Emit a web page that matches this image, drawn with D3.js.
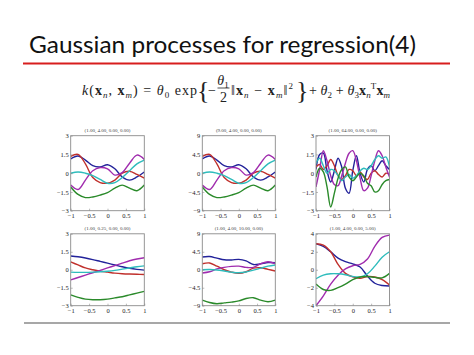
<!DOCTYPE html>
<html><head><meta charset="utf-8">
<script src="https://cdn.jsdelivr.net/npm/d3@7"></script>
<style>html,body{margin:0;padding:0;background:#fff;}svg{display:block;}</style>
</head><body>
<script>
// ---------- data ----------
const titleText = "Gaussian processes for regression(4)";
const panelTitles = ["(1.00, 4.00, 0.00, 0.00)","(9.00, 4.00, 0.00, 0.00)","(1.00, 64.00, 0.00, 0.00)",
                     "(1.00, 0.25, 0.00, 0.00)","(1.00, 4.00, 10.00, 0.00)","(1.00, 4.00, 0.00, 5.00)"];
const seriesColors = ["#22229a","#c0302c","#a02cae","#2ebcbc","#2a8a2a"]; // blue, red, magenta, cyan, green
const xCoarse = [-1,-0.8,-0.6,-0.4,-0.2,0,0.2,0.4,0.6,0.8,1];
const xDense = [-1,-0.9,-0.8,-0.7,-0.6,-0.5,-0.4,-0.3,-0.2,-0.1,0,0.1,0.2,0.3,0.4,0.5,0.6,0.7,0.8,0.9,1];
const xTicks = [-1,-0.5,0,0.5,1];
const yTicks1 = [-3,-1.5,0,1.5,3];
const yTicks9 = [-9,-4.5,0,4.5,9];
const yTicks4 = [-4,-2,0,2,4];

const panel1 = [
  [1.15,1.38,1.05,0.6,0.5,0.68,0.35,-0.3,-0.55,-0.3,0.1],
  [1.35,1.5,0.75,-0.35,-0.75,-0.8,-0.55,0.0,0.15,-0.1,-0.4],
  [-0.95,-1.3,-0.55,0.2,0.45,0.35,-0.15,0.05,0.8,1.45,1.1],
  [0.0,0.1,0.0,-0.2,-0.5,-0.8,-0.75,-0.35,0.2,0.75,1.05],
  [-1.1,-1.7,-1.95,-1.9,-1.75,-1.55,-1.2,-0.95,-1.2,-1.4,-0.95]
];
const panel2 = [
  [3.45,4.14,3.15,1.8,1.5,2.04,1.05,-0.9,-1.65,-0.9,0.3],
  [4.05,4.5,2.25,-1.05,-2.25,-2.4,-1.65,0.0,0.45,-0.3,-1.2],
  [-2.85,-3.9,-1.65,0.6,1.35,1.05,-0.45,0.15,2.4,4.35,3.3],
  [0.0,0.3,0.0,-0.6,-1.5,-2.4,-2.25,-1.05,0.6,2.25,3.15],
  [-3.3,-5.1,-5.85,-5.7,-5.25,-4.65,-3.6,-2.85,-3.6,-4.2,-2.85]
];
const panel3 = [
  [0.3,1.5,1.6,0.2,-0.7,0.2,1.2,0.5,-1.2,-1.6,0.2,1.4,0.0,-0.7,0.3,0.6,0.2,0.6,1.0,0.6,0.3],
  [0.5,0.7,0.3,0.6,1.1,0.6,-0.2,-0.5,-0.2,0.3,0.2,-0.2,0.1,-0.3,-0.5,0.0,0.2,-0.1,-0.3,0.0,-0.1],
  [-1.1,0.3,1.8,1.0,-0.2,-0.9,-1.0,-0.2,0.8,1.6,1.8,1.0,-0.4,-1.4,-1.2,-0.2,1.0,1.8,1.4,0.5,-0.3],
  [0.8,1.2,0.6,0.0,0.3,0.2,-0.2,-0.6,-0.3,-0.1,-0.4,-0.2,0.2,0.4,0.3,0.6,1.1,1.4,1.2,1.3,0.5],
  [-0.3,0.4,0.1,-1.1,-2.7,-1.6,-0.4,0.3,0.5,-0.3,-0.6,-0.3,0.0,-0.2,-0.8,-1.0,-1.5,-1.4,-0.9,-0.6,-0.5]
];
const panel4 = [
  [1.15,1.08,0.98,0.85,0.7,0.55,0.4,0.25,0.12,0.03,-0.03],
  [0.65,0.4,0.15,0.0,-0.12,-0.2,-0.28,-0.33,-0.36,-0.38,-0.4],
  [-0.85,-0.65,-0.45,-0.25,-0.05,0.15,0.35,0.55,0.75,0.9,1.0],
  [-0.2,-0.22,-0.22,-0.2,-0.17,-0.12,-0.05,0.05,0.15,0.25,0.32],
  [-2.1,-2.3,-2.45,-2.5,-2.5,-2.45,-2.35,-2.25,-2.1,-1.95,-1.8]
];
const panel5 = [
  [3.2,3.3,2.9,2.5,2.45,2.6,2.2,1.3,1.5,1.8,1.75],
  [1.5,1.7,0.9,0.0,-0.6,-0.9,-0.5,0.4,0.5,0.1,-0.3],
  [-0.8,-0.5,0.2,0.6,0.85,0.9,0.6,0.6,1.5,2.0,1.5],
  [0.0,0.05,-0.05,-0.3,-0.6,-0.75,-0.55,-0.1,0.4,0.9,1.2],
  [-7.6,-8.2,-8.5,-8.3,-8.1,-7.8,-7.2,-7.0,-7.6,-8.0,-7.6]
];
const panel6 = [
  [2.9,2.6,2.0,1.3,0.9,0.65,0.3,-0.7,-1.5,-1.75,-1.8],
  [2.9,2.75,2.0,0.6,-0.4,-0.8,-0.95,-0.75,-0.8,-1.1,-1.7],
  [-4.0,-2.9,-1.6,-0.6,0.1,0.45,0.6,1.2,2.6,3.6,3.85],
  [-1.0,-0.6,-0.45,-0.45,-0.55,-0.75,-0.8,-0.45,0.4,1.4,2.0],
  [-1.6,-2.2,-2.3,-2.0,-1.6,-1.1,-0.8,-0.75,-0.85,-0.9,-0.4]
];

const panels = [
  {title: panelTitles[0], xs: xCoarse, series: panel1, yTicks: yTicks1},
  {title: panelTitles[1], xs: xCoarse, series: panel2, yTicks: yTicks9},
  {title: panelTitles[2], xs: xDense,  series: panel3, yTicks: yTicks1},
  {title: panelTitles[3], xs: xCoarse, series: panel4, yTicks: yTicks1},
  {title: panelTitles[4], xs: xCoarse, series: panel5, yTicks: yTicks9},
  {title: panelTitles[5], xs: xCoarse, series: panel6, yTicks: yTicks4}
];

// ---------- layout ----------
const W = 474, H = 355;
const svg = d3.select("body").append("svg").attr("width", W).attr("height", H)
  .style("font-family", "'Liberation Serif','DejaVu Serif',serif");

// title
svg.append("text").attr("x", 29).attr("y", 53)
  .attr("font-family", "Lato, 'Open Sans', sans-serif").attr("font-size", 24)
  .attr("textLength", 387).attr("lengthAdjust", "spacingAndGlyphs")
  .attr("fill", "#111").text(titleText);
svg.append("line").attr("x1", 23).attr("x2", 450).attr("y1", 63.5).attr("y2", 63.5)
  .attr("stroke", "#d81e1e").attr("stroke-width", 2);
svg.append("line").attr("x1", 24).attr("x2", 450).attr("y1", 323).attr("y2", 323)
  .attr("stroke", "#8a8a8a").attr("stroke-width", 1.5);

// formula
const fy = 95, fs = 14, ss = 9;
const f = svg.append("g").attr("fill", "#222").attr("font-size", fs);
function seg(x, len, parts) {
  const t = f.append("text").attr("x", x).attr("y", fy);
  parts.forEach(p => {
    const s = t.append("tspan").text(p.t);
    if (p.i) s.attr("font-style", "italic");
    if (p.b) s.attr("font-weight", "bold");
    if (p.dy) s.attr("dy", p.dy);
    if (p.fs) s.attr("font-size", p.fs);
  });
  if (len) t.attr("textLength", len).attr("lengthAdjust", "spacing");
  return t;
}
seg(82, 115, [{t:"k", i:1},{t:"("},{t:"x", b:1},{t:"n", i:1, fs:ss, dy:3},{t:", ", dy:-3},{t:"x", b:1},{t:"m", i:1, fs:ss, dy:3},{t:") = ", dy:-3},{t:"θ", i:1},{t:"0", fs:ss, dy:3},{t:" exp", dy:-3}]);
f.append("text").attr("x", 197).attr("y", fy + 4).attr("font-size", 26).attr("font-weight", 300).text("{");
f.append("text").attr("x", 208).attr("y", fy).text("−");
f.append("text").attr("x", 223).attr("y", 84.5).attr("text-anchor", "middle")
  .call(t => { t.append("tspan").attr("font-style","italic").text("θ"); t.append("tspan").attr("font-size",ss).attr("dy",3).text("1"); });
f.append("line").attr("x1", 217.5).attr("x2", 229.5).attr("y1", 88).attr("y2", 88).attr("stroke", "#222").attr("stroke-width", 0.8);
f.append("text").attr("x", 223.5).attr("y", 102).attr("text-anchor", "middle").text("2");
seg(231, 62, [{t:"‖"},{t:"x", b:1},{t:"n", i:1, fs:ss, dy:3},{t:" − ", dy:-3},{t:"x", b:1},{t:"m", i:1, fs:ss, dy:3},{t:"‖", dy:-3},{t:"2", fs:ss, dy:-6}]);
f.append("text").attr("x", 296).attr("y", fy + 4).attr("font-size", 26).attr("font-weight", 300).text("}");
seg(309, 81, [{t:"+ "},{t:"θ", i:1},{t:"2", fs:ss, dy:3},{t:" + ", dy:-3},{t:"θ", i:1},{t:"3", fs:ss, dy:3},{t:"x", b:1, dy:-3},{t:"n", i:1, fs:ss, dy:3},{t:"T", fs:ss, dy:-9},{t:"x", b:1, dy:6}, {t:"m", i:1, fs:ss, dy:3}]);

// panels
const boxes = [
  {x0: 70.7, x1: 144.3, y0: 135.7, y1: 210.7, ty: 132},
  {x0: 202.3, x1: 275.3, y0: 135.7, y1: 210.7, ty: 132},
  {x0: 316, x1: 389.5, y0: 135.7, y1: 210.7, ty: 132},
  {x0: 70.7, x1: 144.3, y0: 233.8, y1: 305.7, ty: 230},
  {x0: 202.3, x1: 275.3, y0: 233.8, y1: 305.7, ty: 230},
  {x0: 316, x1: 389.5, y0: 233.8, y1: 305.7, ty: 230}
];

const fmt = d3.format("");
panels.forEach((p, i) => {
  const b = boxes[i];
  const x = d3.scaleLinear().domain([-1, 1]).range([b.x0, b.x1]);
  const yd = d3.extent(p.yTicks);
  const y = d3.scaleLinear().domain(yd).range([b.y1, b.y0]);
  const g = svg.append("g");

  const clipId = "clip" + i;
  g.append("clipPath").attr("id", clipId).append("rect")
    .attr("x", b.x0).attr("y", b.y0).attr("width", b.x1 - b.x0).attr("height", b.y1 - b.y0);

  const line = d3.line().x((d, k) => x(p.xs[k])).y(d => y(d)).curve(d3.curveCatmullRom.alpha(0.5));
  g.append("g").attr("clip-path", `url(#${clipId})`).selectAll("path").data(p.series).join("path")
    .attr("d", line).attr("fill", "none")
    .attr("stroke", (d, k) => seriesColors[k]).attr("stroke-width", 1.4);

  g.append("rect").attr("x", b.x0).attr("y", b.y0).attr("width", b.x1 - b.x0).attr("height", b.y1 - b.y0)
    .attr("fill", "none").attr("stroke", "#8a8a8a").attr("stroke-width", 0.9);

  const xa = g.append("g").attr("transform", `translate(0,${b.y1})`)
    .call(d3.axisBottom(x).tickValues(xTicks).tickFormat(fmt).tickSizeInner(-2).tickSizeOuter(0).tickPadding(3));
  const ya = g.append("g").attr("transform", `translate(${b.x0},0)`)
    .call(d3.axisLeft(y).tickValues(p.yTicks).tickFormat(fmt).tickSizeInner(-2).tickSizeOuter(0).tickPadding(2));
  [xa, ya].forEach(a => {
    a.select(".domain").remove();
    a.selectAll(".tick line").attr("stroke", "#8a8a8a").attr("stroke-width", 0.6);
    a.selectAll("text").attr("font-size", 6.5).attr("fill", "#222")
      .attr("font-family", "'Liberation Serif','DejaVu Serif',serif");
  });
  g.append("text").attr("x", (b.x0 + b.x1) / 2).attr("y", b.ty).attr("text-anchor", "middle")
    .attr("font-size", 5).attr("fill", "#444").text(p.title);
});
</script>
</body></html>
